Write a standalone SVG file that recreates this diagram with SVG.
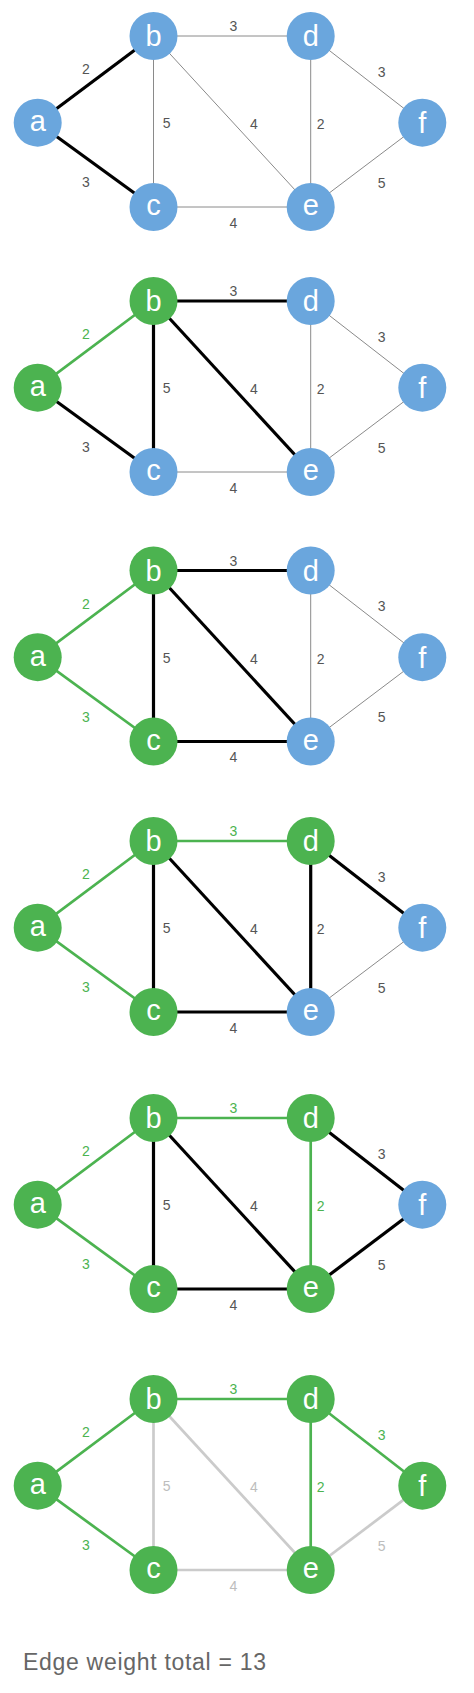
<svg xmlns="http://www.w3.org/2000/svg" width="474" height="1693" viewBox="0 0 474 1693">
<style>
.bg{fill:#ffffff}
.thin{stroke:#8a8a8a;stroke-width:1;fill:none}
.blk{stroke:#000000;stroke-width:3.2;fill:none}
.grn{stroke:#4cb350;stroke-width:2.7;fill:none}
.gry{stroke:#cbcbcb;stroke-width:2.7;fill:none}
.nb{fill:#6aa6dd}
.ng{fill:#4cb350}
.nl{fill:#ffffff;font-family:"Liberation Sans",Arial,sans-serif;font-size:29px;text-anchor:middle}
.el{font-family:"Liberation Sans",Arial,sans-serif;font-size:14px;text-anchor:middle;fill:#555555}
.elg{fill:#4cb350}
.ell{fill:#bdbdbd}
.tot{font-family:"Liberation Sans",Arial,sans-serif;font-size:23px;fill:#666666}
</style>
<rect class="bg" x="0" y="0" width="474" height="1693"/>

<!-- Panel 1 (b y = 36) -->
<g id="p1-connectors">
<line class="thin" x1="153.5" y1="36" x2="310.7" y2="36"/>
<line class="thin" x1="153.5" y1="36" x2="153.5" y2="207"/>
<line class="thin" x1="153.5" y1="36" x2="310.7" y2="207"/>
<line class="thin" x1="310.7" y1="36" x2="310.7" y2="207"/>
<line class="thin" x1="310.7" y1="36" x2="422.3" y2="122.7"/>
<line class="thin" x1="310.7" y1="207" x2="422.3" y2="122.7"/>
<line class="thin" x1="153.5" y1="207" x2="310.7" y2="207"/>
<line class="blk" x1="37.7" y1="122.7" x2="153.5" y2="36"/>
<line class="blk" x1="37.7" y1="122.7" x2="153.5" y2="207"/>
<text class="el" x="86" y="74">2</text>
<text class="el" x="86" y="187.3">3</text>
<text class="el" x="233.3" y="31">3</text>
<text class="el" x="166.7" y="128.3">5</text>
<text class="el" x="254" y="129">4</text>
<text class="el" x="320.7" y="129">2</text>
<text class="el" x="381.7" y="76.7">3</text>
<text class="el" x="381.7" y="187.7">5</text>
<text class="el" x="233.3" y="227.7">4</text>
</g>
<g id="p1-a"><circle class="nb" cx="37.7" cy="122.7" r="24"/><text class="nl" x="37.7" y="131">a</text></g>
<g id="p1-b"><circle class="nb" cx="153.5" cy="36" r="24"/><text class="nl" x="153.5" y="46">b</text></g>
<g id="p1-c"><circle class="nb" cx="153.5" cy="207" r="24"/><text class="nl" x="153.5" y="215.3">c</text></g>
<g id="p1-d"><circle class="nb" cx="310.7" cy="36" r="24"/><text class="nl" x="310.7" y="46">d</text></g>
<g id="p1-e"><circle class="nb" cx="310.7" cy="207" r="24"/><text class="nl" x="310.7" y="215.3">e</text></g>
<g id="p1-f"><circle class="nb" cx="422.3" cy="122.7" r="24"/><text class="nl" x="422.3" y="133">f</text></g>

<!-- Panel 2 (b y = 301) -->
<g id="p2-connectors">
<line class="thin" x1="310.7" y1="301" x2="310.7" y2="472"/>
<line class="thin" x1="310.7" y1="301" x2="422.3" y2="387.7"/>
<line class="thin" x1="310.7" y1="472" x2="422.3" y2="387.7"/>
<line class="thin" x1="153.5" y1="472" x2="310.7" y2="472"/>
<line class="blk" x1="153.5" y1="301" x2="310.7" y2="301"/>
<line class="blk" x1="153.5" y1="301" x2="153.5" y2="472"/>
<line class="blk" x1="153.5" y1="301" x2="310.7" y2="472"/>
<line class="blk" x1="37.7" y1="387.7" x2="153.5" y2="472"/>
<line class="grn" x1="37.7" y1="387.7" x2="153.5" y2="301"/>
<text class="el elg" x="86" y="339">2</text>
<text class="el" x="86" y="452.3">3</text>
<text class="el" x="233.3" y="296">3</text>
<text class="el" x="166.7" y="393.3">5</text>
<text class="el" x="254" y="394">4</text>
<text class="el" x="320.7" y="394">2</text>
<text class="el" x="381.7" y="341.7">3</text>
<text class="el" x="381.7" y="452.7">5</text>
<text class="el" x="233.3" y="492.7">4</text>
</g>
<g id="p2-a"><circle class="ng" cx="37.7" cy="387.7" r="24"/><text class="nl" x="37.7" y="396">a</text></g>
<g id="p2-b"><circle class="ng" cx="153.5" cy="301" r="24"/><text class="nl" x="153.5" y="311">b</text></g>
<g id="p2-c"><circle class="nb" cx="153.5" cy="472" r="24"/><text class="nl" x="153.5" y="480.3">c</text></g>
<g id="p2-d"><circle class="nb" cx="310.7" cy="301" r="24"/><text class="nl" x="310.7" y="311">d</text></g>
<g id="p2-e"><circle class="nb" cx="310.7" cy="472" r="24"/><text class="nl" x="310.7" y="480.3">e</text></g>
<g id="p2-f"><circle class="nb" cx="422.3" cy="387.7" r="24"/><text class="nl" x="422.3" y="398">f</text></g>

<!-- Panel 3 (b y = 570.5) -->
<g id="p3-connectors">
<line class="thin" x1="310.7" y1="570.5" x2="310.7" y2="741.5"/>
<line class="thin" x1="310.7" y1="570.5" x2="422.3" y2="657.2"/>
<line class="thin" x1="310.7" y1="741.5" x2="422.3" y2="657.2"/>
<line class="blk" x1="153.5" y1="741.5" x2="310.7" y2="741.5"/>
<line class="blk" x1="153.5" y1="570.5" x2="310.7" y2="570.5"/>
<line class="blk" x1="153.5" y1="570.5" x2="153.5" y2="741.5"/>
<line class="blk" x1="153.5" y1="570.5" x2="310.7" y2="741.5"/>
<line class="grn" x1="37.7" y1="657.2" x2="153.5" y2="741.5"/>
<line class="grn" x1="37.7" y1="657.2" x2="153.5" y2="570.5"/>
<text class="el elg" x="86" y="608.5">2</text>
<text class="el elg" x="86" y="721.8">3</text>
<text class="el" x="233.3" y="565.5">3</text>
<text class="el" x="166.7" y="662.8">5</text>
<text class="el" x="254" y="663.5">4</text>
<text class="el" x="320.7" y="663.5">2</text>
<text class="el" x="381.7" y="611.2">3</text>
<text class="el" x="381.7" y="722.2">5</text>
<text class="el" x="233.3" y="762.2">4</text>
</g>
<g id="p3-a"><circle class="ng" cx="37.7" cy="657.2" r="24"/><text class="nl" x="37.7" y="665.5">a</text></g>
<g id="p3-b"><circle class="ng" cx="153.5" cy="570.5" r="24"/><text class="nl" x="153.5" y="580.5">b</text></g>
<g id="p3-c"><circle class="ng" cx="153.5" cy="741.5" r="24"/><text class="nl" x="153.5" y="749.8">c</text></g>
<g id="p3-d"><circle class="nb" cx="310.7" cy="570.5" r="24"/><text class="nl" x="310.7" y="580.5">d</text></g>
<g id="p3-e"><circle class="nb" cx="310.7" cy="741.5" r="24"/><text class="nl" x="310.7" y="749.8">e</text></g>
<g id="p3-f"><circle class="nb" cx="422.3" cy="657.2" r="24"/><text class="nl" x="422.3" y="667.5">f</text></g>

<!-- Panel 4 (b y = 841) -->
<g id="p4-connectors">
<line class="thin" x1="310.7" y1="1012" x2="422.3" y2="927.7"/>
<line class="blk" x1="310.7" y1="841" x2="310.7" y2="1012"/>
<line class="blk" x1="310.7" y1="841" x2="422.3" y2="927.7"/>
<line class="blk" x1="153.5" y1="1012" x2="310.7" y2="1012"/>
<line class="blk" x1="153.5" y1="841" x2="153.5" y2="1012"/>
<line class="blk" x1="153.5" y1="841" x2="310.7" y2="1012"/>
<line class="grn" x1="153.5" y1="841" x2="310.7" y2="841"/>
<line class="grn" x1="37.7" y1="927.7" x2="153.5" y2="1012"/>
<line class="grn" x1="37.7" y1="927.7" x2="153.5" y2="841"/>
<text class="el elg" x="86" y="879">2</text>
<text class="el elg" x="86" y="992.3">3</text>
<text class="el elg" x="233.3" y="836">3</text>
<text class="el" x="166.7" y="933.3">5</text>
<text class="el" x="254" y="934">4</text>
<text class="el" x="320.7" y="934">2</text>
<text class="el" x="381.7" y="881.7">3</text>
<text class="el" x="381.7" y="992.7">5</text>
<text class="el" x="233.3" y="1032.7">4</text>
</g>
<g id="p4-a"><circle class="ng" cx="37.7" cy="927.7" r="24"/><text class="nl" x="37.7" y="936">a</text></g>
<g id="p4-b"><circle class="ng" cx="153.5" cy="841" r="24"/><text class="nl" x="153.5" y="851">b</text></g>
<g id="p4-c"><circle class="ng" cx="153.5" cy="1012" r="24"/><text class="nl" x="153.5" y="1020.3">c</text></g>
<g id="p4-d"><circle class="ng" cx="310.7" cy="841" r="24"/><text class="nl" x="310.7" y="851">d</text></g>
<g id="p4-e"><circle class="nb" cx="310.7" cy="1012" r="24"/><text class="nl" x="310.7" y="1020.3">e</text></g>
<g id="p4-f"><circle class="nb" cx="422.3" cy="927.7" r="24"/><text class="nl" x="422.3" y="938">f</text></g>

<!-- Panel 5 (b y = 1118) -->
<g id="p5-connectors">
<line class="blk" x1="310.7" y1="1289" x2="422.3" y2="1204.7"/>
<line class="blk" x1="310.7" y1="1118" x2="422.3" y2="1204.7"/>
<line class="blk" x1="153.5" y1="1289" x2="310.7" y2="1289"/>
<line class="blk" x1="153.5" y1="1118" x2="153.5" y2="1289"/>
<line class="blk" x1="153.5" y1="1118" x2="310.7" y2="1289"/>
<line class="grn" x1="310.7" y1="1118" x2="310.7" y2="1289"/>
<line class="grn" x1="153.5" y1="1118" x2="310.7" y2="1118"/>
<line class="grn" x1="37.7" y1="1204.7" x2="153.5" y2="1289"/>
<line class="grn" x1="37.7" y1="1204.7" x2="153.5" y2="1118"/>
<text class="el elg" x="86" y="1156">2</text>
<text class="el elg" x="86" y="1269.3">3</text>
<text class="el elg" x="233.3" y="1113">3</text>
<text class="el" x="166.7" y="1210.3">5</text>
<text class="el" x="254" y="1211">4</text>
<text class="el elg" x="320.7" y="1211">2</text>
<text class="el" x="381.7" y="1158.7">3</text>
<text class="el" x="381.7" y="1269.7">5</text>
<text class="el" x="233.3" y="1309.7">4</text>
</g>
<g id="p5-a"><circle class="ng" cx="37.7" cy="1204.7" r="24"/><text class="nl" x="37.7" y="1213">a</text></g>
<g id="p5-b"><circle class="ng" cx="153.5" cy="1118" r="24"/><text class="nl" x="153.5" y="1128">b</text></g>
<g id="p5-c"><circle class="ng" cx="153.5" cy="1289" r="24"/><text class="nl" x="153.5" y="1297.3">c</text></g>
<g id="p5-d"><circle class="ng" cx="310.7" cy="1118" r="24"/><text class="nl" x="310.7" y="1128">d</text></g>
<g id="p5-e"><circle class="ng" cx="310.7" cy="1289" r="24"/><text class="nl" x="310.7" y="1297.3">e</text></g>
<g id="p5-f"><circle class="nb" cx="422.3" cy="1204.7" r="24"/><text class="nl" x="422.3" y="1215">f</text></g>

<!-- Panel 6 (b y = 1399) -->
<g id="p6-connectors">
<line class="gry" x1="310.7" y1="1570" x2="422.3" y2="1485.7"/>
<line class="gry" x1="153.5" y1="1570" x2="310.7" y2="1570"/>
<line class="gry" x1="153.5" y1="1399" x2="153.5" y2="1570"/>
<line class="gry" x1="153.5" y1="1399" x2="310.7" y2="1570"/>
<line class="grn" x1="310.7" y1="1399" x2="422.3" y2="1485.7"/>
<line class="grn" x1="310.7" y1="1399" x2="310.7" y2="1570"/>
<line class="grn" x1="153.5" y1="1399" x2="310.7" y2="1399"/>
<line class="grn" x1="37.7" y1="1485.7" x2="153.5" y2="1570"/>
<line class="grn" x1="37.7" y1="1485.7" x2="153.5" y2="1399"/>
<text class="el elg" x="86" y="1437">2</text>
<text class="el elg" x="86" y="1550.3">3</text>
<text class="el elg" x="233.3" y="1394">3</text>
<text class="el ell" x="166.7" y="1491.3">5</text>
<text class="el ell" x="254" y="1492">4</text>
<text class="el elg" x="320.7" y="1492">2</text>
<text class="el elg" x="381.7" y="1439.7">3</text>
<text class="el ell" x="381.7" y="1550.7">5</text>
<text class="el ell" x="233.3" y="1590.7">4</text>
</g>
<g id="p6-a"><circle class="ng" cx="37.7" cy="1485.7" r="24"/><text class="nl" x="37.7" y="1494">a</text></g>
<g id="p6-b"><circle class="ng" cx="153.5" cy="1399" r="24"/><text class="nl" x="153.5" y="1409">b</text></g>
<g id="p6-c"><circle class="ng" cx="153.5" cy="1570" r="24"/><text class="nl" x="153.5" y="1578.3">c</text></g>
<g id="p6-d"><circle class="ng" cx="310.7" cy="1399" r="24"/><text class="nl" x="310.7" y="1409">d</text></g>
<g id="p6-e"><circle class="ng" cx="310.7" cy="1570" r="24"/><text class="nl" x="310.7" y="1578.3">e</text></g>
<g id="p6-f"><circle class="ng" cx="422.3" cy="1485.7" r="24"/><text class="nl" x="422.3" y="1496">f</text></g>

<text id="total" class="tot" x="23" y="1670" textLength="243" lengthAdjust="spacing">Edge weight total = 13</text>
</svg>
